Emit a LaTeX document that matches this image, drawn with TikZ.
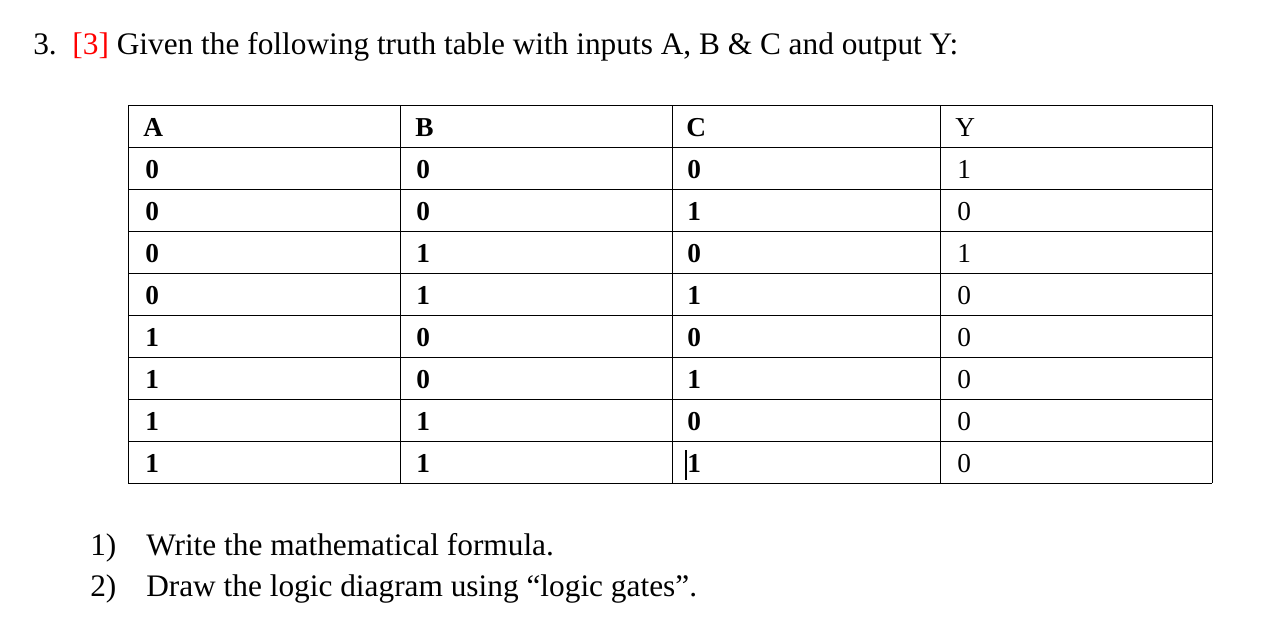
\documentclass[tikz,border=0pt]{standalone}
\usepackage{fontspec}
\setmainfont{Liberation Serif}
\begin{document}
\begin{tikzpicture}[x=0.75pt,y=-0.75pt,
  tl/.style={draw=black,line width=0.6pt},
  cell/.style={anchor=base west,inner sep=0pt,font=\fontsize{20.5pt}{24pt}\selectfont},
  txt/.style={anchor=base west,inner sep=0pt,font=\fontsize{23.5pt}{28pt}\selectfont}]
\useasboundingbox (0,0) rectangle (1263,642);
\node[txt] (title) at (33,55) {3.\ \ \textcolor{red}{[3]} Given the following truth table with inputs A, B \& C and output Y:};
\foreach \yy in {105,147,189,231,273,315,357,399,441,483}
  \draw[tl] (128,\yy) -- (1212,\yy);
\foreach \xx in {128,400,672,940,1212}
  \draw[tl] (\xx,105) -- (\xx,483);
\draw[line width=1pt] (686,450) -- (686,480);
\node[cell] (hA) at (143,136) {\textbf{A}};
\node[cell] (hB) at (415,136) {\textbf{B}};
\node[cell] (hC) at (686,136) {\textbf{C}};
\node[cell] (hY) at (955,136) {Y};
\foreach \a/\b/\c/\y [count=\i] in {0/0/0/1,0/0/1/0,0/1/0/1,0/1/1/0,1/0/0/0,1/0/1/0,1/1/0/0,1/1/1/0}{
  \pgfmathsetmacro{\yb}{136+42*\i}
  \node[cell] (a\i) at (145,\yb) {\textbf{\a}};
  \node[cell] (b\i) at (416,\yb) {\textbf{\b}};
  \node[cell] (c\i) at (687,\yb) {\textbf{\c}};
  \node[cell] (y\i) at (957,\yb) {\y};
}
\node[txt] (n1) at (90,555) {1)};
\node[txt] (t1) at (146,555) {Write the mathematical formula.};
\node[txt] (n2) at (90,596) {2)};
\node[txt] (t2) at (146,596) {Draw the logic diagram using “logic gates”.};
\end{tikzpicture}
\end{document}
